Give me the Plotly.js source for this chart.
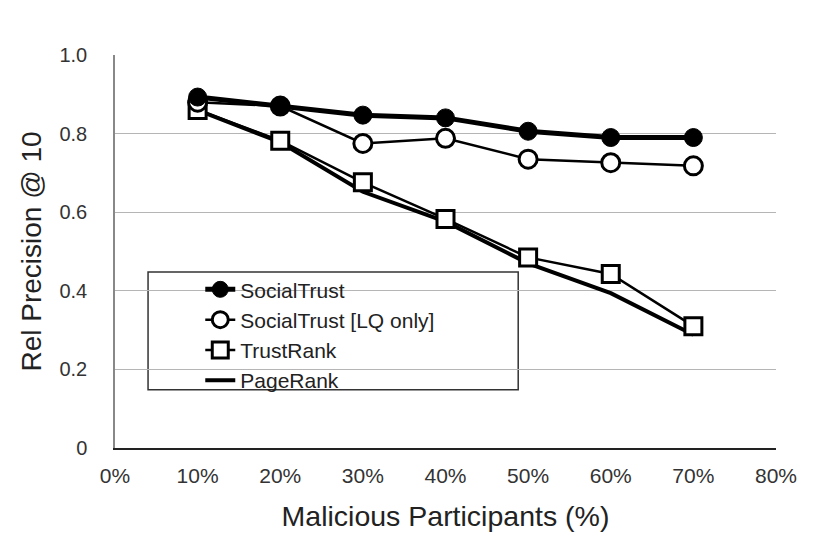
<!DOCTYPE html>
<html>
<head>
<meta charset="utf-8">
<script src="https://cdn.plot.ly/plotly-3.0.1.min.js"></script>
<style>body{margin:0;background:#fff;}</style>
</head>
<body>
<div id="chart" style="width:835px;height:540px;"></div>
<script>
//Data
var malicious = [10, 20, 30, 40, 50, 60, 70]; //percent of malicious participants
var socialTrust = [0.893, 0.870, 0.847, 0.840, 0.806, 0.790, 0.790];
var socialTrustLQ = [0.880, 0.870, 0.775, 0.788, 0.735, 0.726, 0.718];
var trustRank = [0.860, 0.782, 0.676, 0.583, 0.485, 0.443, 0.310];
var pageRank = [0.860, 0.778, 0.652, 0.576, 0.470, 0.394, 0.288];
var xTickVals = [0, 10, 20, 30, 40, 50, 60, 70, 80];
var xTickText = ['0%', '10%', '20%', '30%', '40%', '50%', '60%', '70%', '80%'];
var yTickVals = [0, 0.2, 0.4, 0.6, 0.8, 1.0];
var yTickText = ['0', '0.2', '0.4', '0.6', '0.8', '1.0'];

//Drawn bottom to top, legend order set by legendrank
var prTrace = { x: malicious, y: pageRank, name: 'PageRank', legendrank: 4,
  mode: 'lines', type: 'scatter', line: {color: '#000000', width: 4}
};
var trTrace = { x: malicious, y: trustRank, name: 'TrustRank', legendrank: 3,
  mode: 'lines+markers', type: 'scatter', line: {color: '#000000', width: 2.5},
  marker: {symbol: 'square', size: 17, color: '#ffffff', line: {color: '#000000', width: 3}}
};
var lqTrace = { x: malicious, y: socialTrustLQ, name: 'SocialTrust [LQ only]', legendrank: 2,
  mode: 'lines+markers', type: 'scatter', line: {color: '#000000', width: 2.5},
  marker: {symbol: 'circle', size: 18, color: '#ffffff', line: {color: '#000000', width: 3}}
};
var stTrace = { x: malicious, y: socialTrust, name: 'SocialTrust', legendrank: 1,
  mode: 'lines+markers', type: 'scatter', line: {color: '#000000', width: 5},
  marker: {symbol: 'circle', size: 18, color: '#000000', line: {color: '#000000', width: 1}}
};

var layout = {
  width: 835, height: 540,
  margin: {l: 115, r: 59, t: 55, b: 92},
  paper_bgcolor: '#ffffff', plot_bgcolor: '#ffffff',
  font: {family: 'Liberation Sans, Arial, sans-serif', color: '#222222'},
  showlegend: true,
  legend: {
    x: 0.129, y: 0.455, xanchor: 'left', yanchor: 'top',
    bgcolor: 'rgba(0,0,0,0)', borderwidth: 0,
    font: {size: 21, color: '#222222'}, tracegroupgap: 0, itemwidth: 30
  },
  //legend frame, wider than the entries as in the reference
  shapes: [{
    type: 'rect', xref: 'paper', yref: 'paper',
    x0: 0.05, x1: 0.610, y0: 0.148, y1: 0.448,
    line: {color: '#333333', width: 1.5}, fillcolor: 'rgba(255,255,255,1)', layer: 'below'
  }],
  xaxis: {
    range: [0, 80], tickvals: xTickVals, ticktext: xTickText,
    showgrid: false, zeroline: false, showline: true, linecolor: '#222222', linewidth: 1.5,
    ticks: '', ticklabelstandoff: 8, tickfont: {size: 21, color: '#333333'},
    title: {text: 'Malicious Participants (%)', font: {size: 28.5, color: '#222222'}, standoff: 20}
  },
  yaxis: {
    range: [0, 1.0], tickvals: yTickVals, ticktext: yTickText,
    showgrid: true, gridcolor: '#b5b5b5', gridwidth: 1, zeroline: false,
    showline: true, linecolor: '#888888', linewidth: 1.5,
    ticks: '', ticklabelstandoff: 22, tickfont: {size: 20, color: '#333333'},
    title: {text: 'Rel Precision @ 10', font: {size: 28, color: '#222222'}, standoff: 10}
  }
};

Plotly.newPlot('chart', [prTrace, trTrace, lqTrace, stTrace], layout, {displayModeBar: false});
</script>
</body>
</html>
